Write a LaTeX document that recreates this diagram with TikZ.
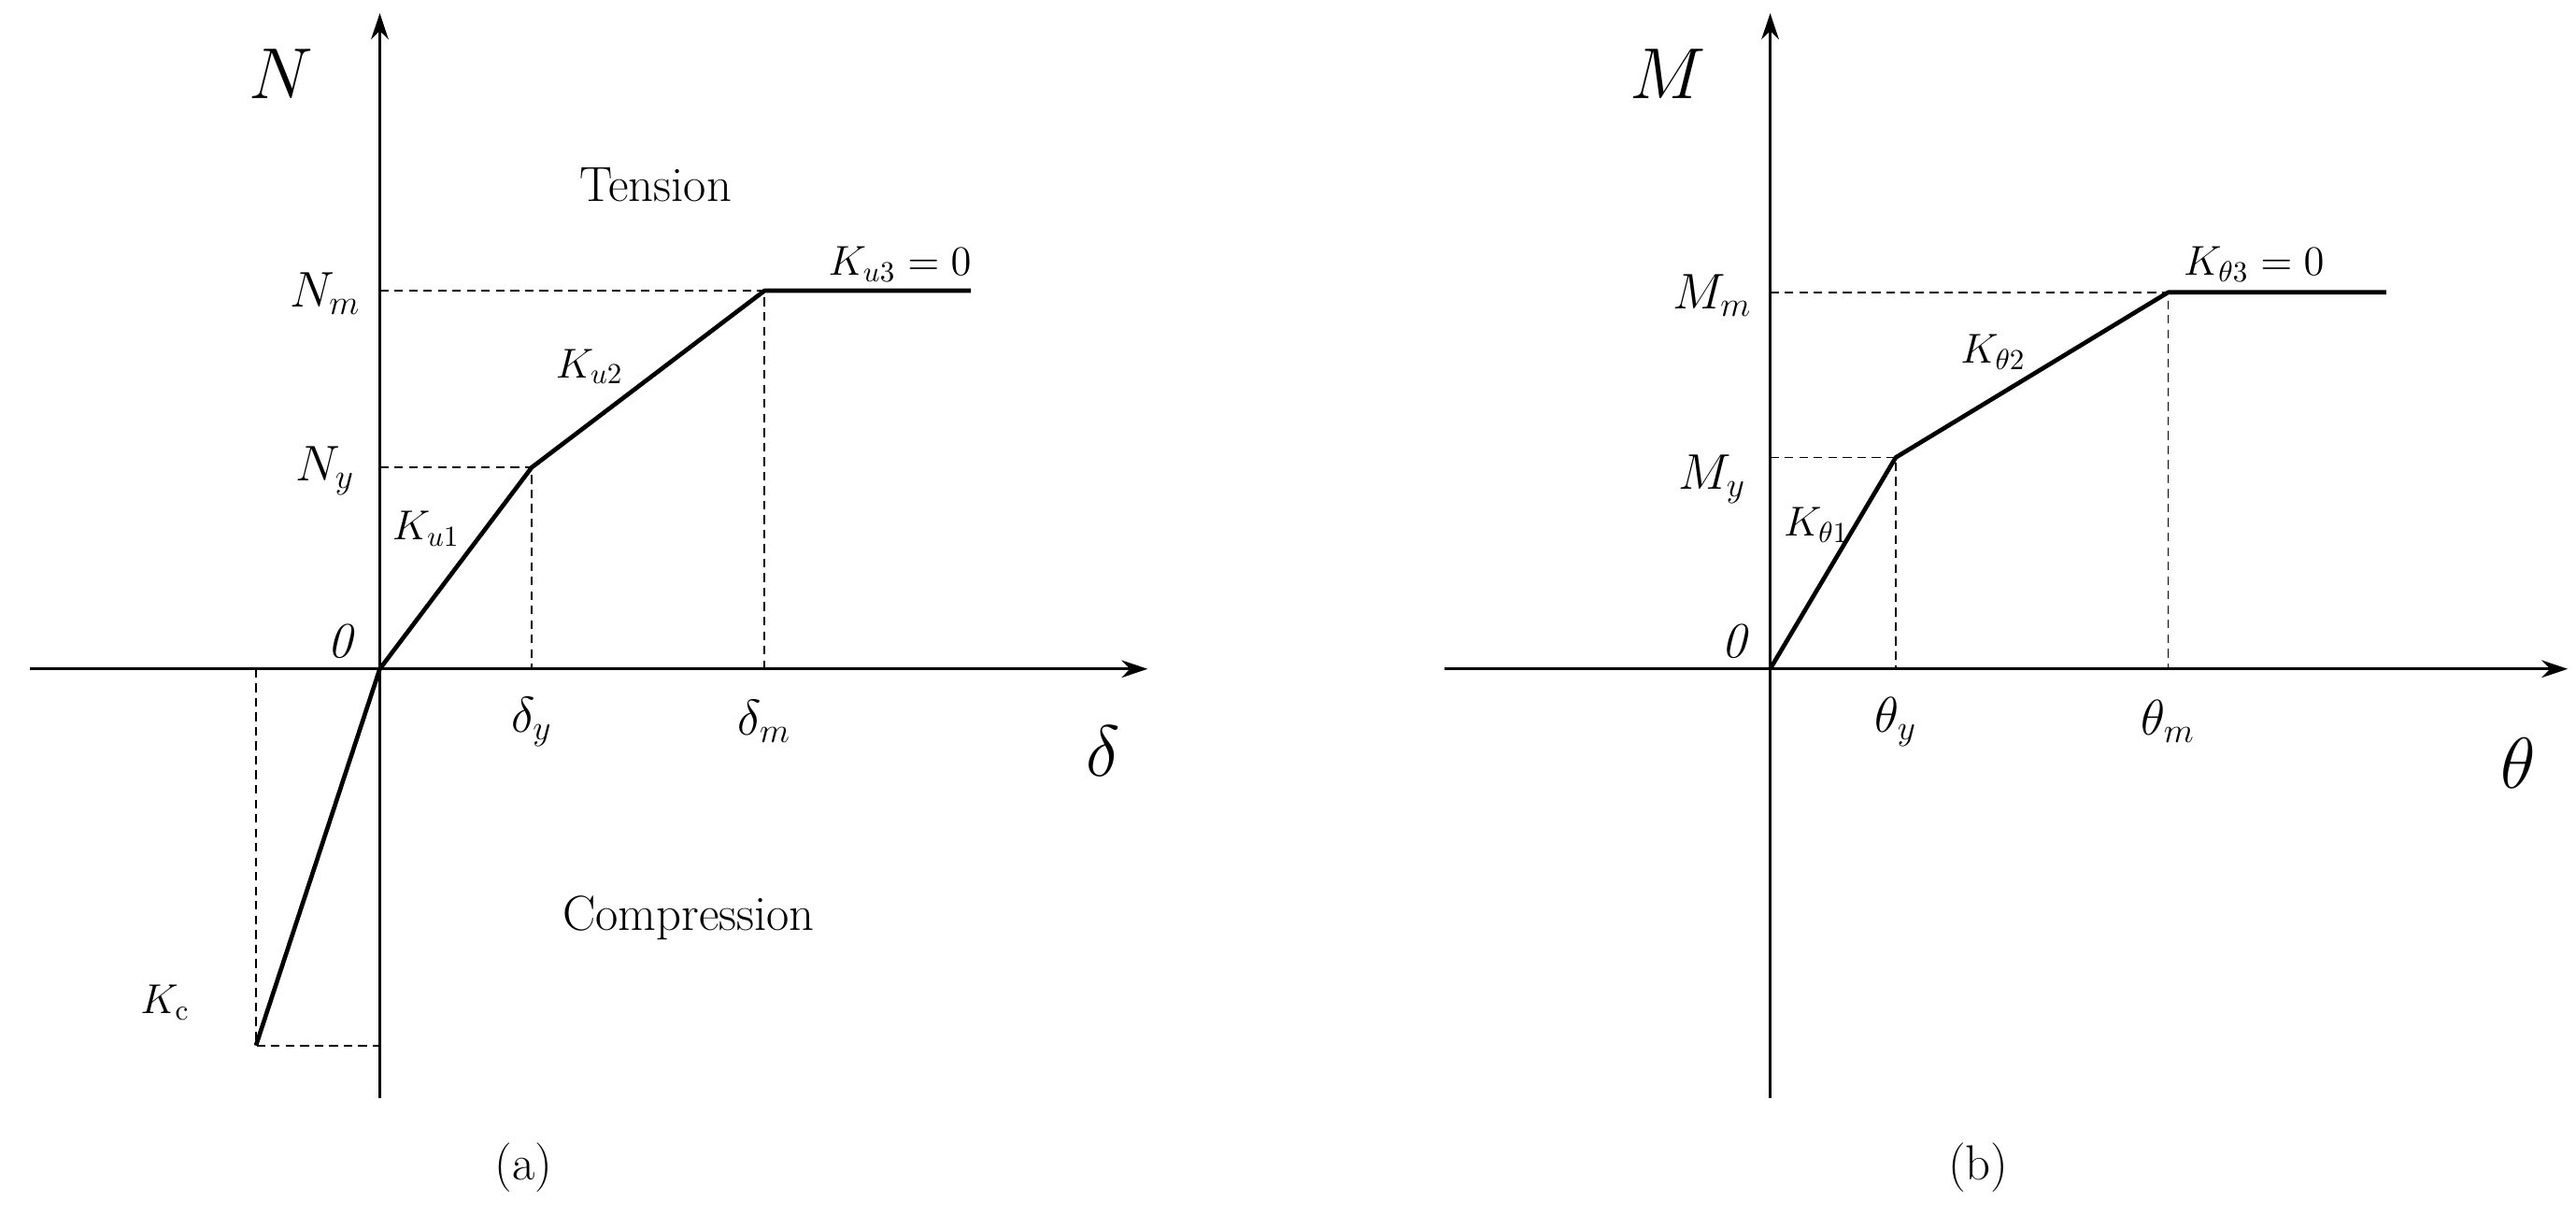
\documentclass[tikz,border=0pt]{standalone}
\usetikzlibrary{arrows.meta}
\begin{document}
\begin{tikzpicture}[x=0.02cm,y=-0.02cm,
 ax/.style={line width=1.1pt,-{Stealth[length=9pt,width=6pt]}},
 curve/.style={line width=1.5pt,line join=round},
 dsh/.style={densely dashed,line width=0.5pt},
 lab/.style={font=\fontsize{17}{20}\selectfont},
 big/.style={font=\fontsize{28}{32}\selectfont},
 kl/.style={font=\fontsize{14}{16}\selectfont},
 txt/.style={font=\fontsize{17}{20}\selectfont}]
\useasboundingbox (0,0) rectangle (1560,735);
% ---- (a)
\coordinate (o1) at (230,405);
\coordinate (y1) at (322,283);
\coordinate (m1) at (463,176);
\coordinate (e1) at (588,176);
\coordinate (c1) at (155,633);
\coordinate (yb) at (230,665); \coordinate (yt) at (230,8);
\coordinate (xl) at (18,405); \coordinate (xr) at (695,405);
\draw[ax] (yb) -- (yt);
\draw[ax] (xl) -- (xr);
\draw[dsh] (230,283) -- (y1) -- (322,405);
\draw[dsh] (230,176) -- (m1) -- (463,405);
\draw[dsh] (155,405) -- (c1) -- (230,633);
\draw[curve] (c1) -- (o1) -- (y1) -- (m1) -- (e1);
\node[big] (N) at (170,45) {$N$};
\node[txt] (ten) at (397,112) {Tension};
\node[txt] (com) at (417,556) {Compression};
\node[lab] (nm) at (197,178) {$N_m$};
\node[lab] (ny) at (197,285) {$N_y$};
\node[lab] (z1) at (208,388) {$\mathit{0}$};
\node[lab] (dy) at (322,437) {$\delta_y$};
\node[lab] (dm) at (463,437) {$\delta_m$};
\node[big] (d) at (668,455) {$\delta$};
\node[kl] (ku1) at (258,320) {$K_{u1}$};
\node[kl] (ku2) at (357,222) {$K_{u2}$};
\node[kl] (ku3) at (545,160) {$K_{u3}=0$};
\node[kl] (kc) at (100,607) {$K_{\mathrm{c}}$};
\node[txt] (a) at (317,707) {(a)};
% ---- (b)
\coordinate (o2) at (1072,405);
\coordinate (y2) at (1148,277);
\coordinate (m2) at (1313,177);
\coordinate (e2) at (1445,177);
\draw[ax] (1072,665) -- (1072,8);
\draw[ax] (875,405) -- (1555,405);
\draw[dsh] (1072,277) -- (y2) -- (1148,405);
\draw[dsh] (1072,177) -- (m2) -- (1313,405);
\draw[curve] (o2) -- (y2) -- (m2) -- (e2);
\node[big] (M) at (1010,45) {$M$};
\node[lab] (mm) at (1037,179) {$M_m$};
\node[lab] (my) at (1037,290) {$M_y$};
\node[lab] (z2) at (1052,388) {$\mathit{0}$};
\node[lab] (ty) at (1148,437) {$\theta_y$};
\node[lab] (tm) at (1313,437) {$\theta_m$};
\node[big] (t) at (1525,462) {$\theta$};
\node[kl] (kt1) at (1100,318) {$K_{\theta1}$};
\node[kl] (kt2) at (1207,213) {$K_{\theta2}$};
\node[kl] (kt3) at (1365,160) {$K_{\theta3}=0$};
\node[txt] (b) at (1198,707) {(b)};
\end{tikzpicture}
\end{document}
